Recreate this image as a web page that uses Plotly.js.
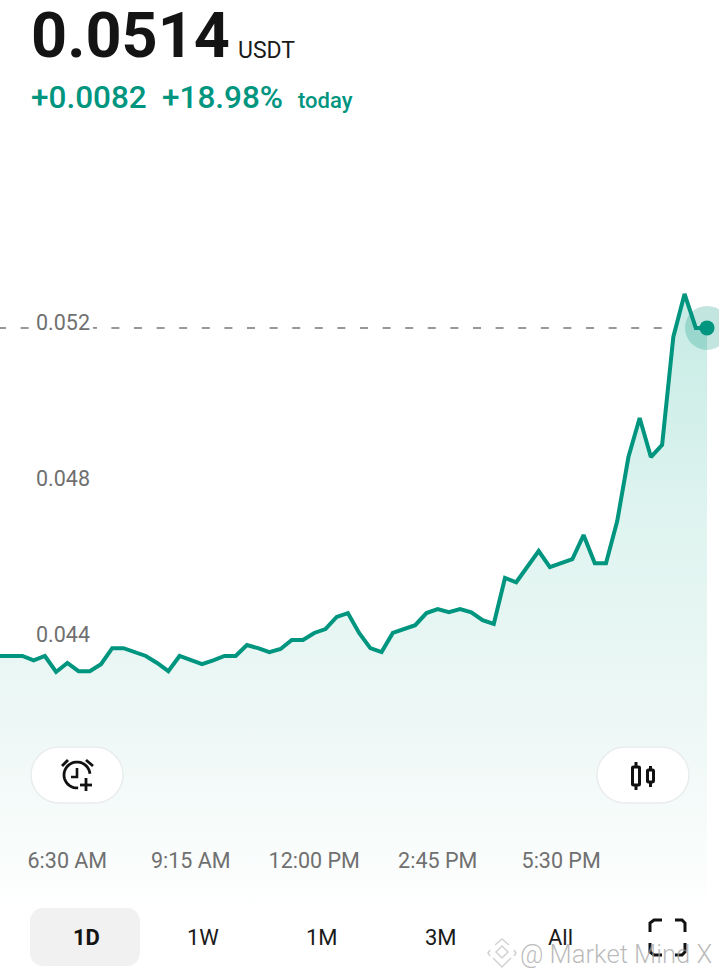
<!DOCTYPE html>
<html><head><meta charset="utf-8">
<script src="https://cdn.plot.ly/plotly-3.0.1.min.js"></script>
<style>html,body{margin:0;padding:0;background:#fff;overflow:hidden}#c{width:719px;height:979px}</style>
</head><body><div id="c"></div>
<script>
const times = ["05:00","05:15","05:30","05:45","06:00","06:15","06:30","06:45","07:00","07:15","07:30","07:45","08:00","08:15","08:30","08:45","09:00","09:15","09:30","09:45","10:00","10:15","10:30","10:45","11:00","11:15","11:30","11:45","12:00","12:15","12:30","12:45","13:00","13:15","13:30","13:45","14:00","14:15","14:30","14:45","15:00","15:15","15:30","15:45","16:00","16:15","16:30","16:45","17:00","17:15","17:30","17:45","18:00","18:15","18:30","18:45","19:00","19:15","19:30","19:45","20:00","20:15","20:30","20:45"];
const prices = [0.04344,0.04344,0.04344,0.04333,0.04344,0.04303,0.04326,0.04305,0.04305,0.04323,0.04364,0.04364,0.04354,0.04344,0.04326,0.04305,0.04344,0.04333,0.04323,0.04333,0.04344,0.04344,0.04372,0.04364,0.04354,0.04362,0.04385,0.04385,0.04403,0.04413,0.04444,0.04454,0.04403,0.04364,0.04354,0.04403,0.04413,0.04423,0.04454,0.04464,0.04456,0.04464,0.04456,0.04436,0.04426,0.04544,0.04533,0.04574,0.04613,0.04572,0.04582,0.04592,0.04654,0.04582,0.04582,0.04690,0.04854,0.04954,0.04854,0.04885,0.05162,0.05272,0.05185,0.05185];
const xTickVals = ["06:30","09:15","12:00","14:45","17:30"];
const xTickText = ["6:30 AM","9:15 AM","12:00 PM","2:45 PM","5:30 PM"];
const yTickVals = [0.044,0.048,0.052];
const yTickText = ["0.044","0.048","0.052"];
const tabs = ["1W","1M","3M","All"];
const tabCenters = [203,322,441,560];

const W=719,H=979,ML=0,MR=12,MT=120,MB=64;
const PW=W-ML-MR, PH=H-MT-MB;
const TEAL="#00957f", FF="Roboto, sans-serif";
const px=x=>(x-ML)/PW, py=y=>1-(y-MT)/PH;
const P=(x,y)=>px(x).toFixed(5)+","+py(y).toFixed(5);
const pathOf=(d,extra)=>Object.assign({type:"path",xref:"paper",yref:"paper",path:d,line:{color:"#111",width:3},layer:"above"},extra||{});
const poly=(pts,close)=>"M"+pts.map(p=>P(p[0],p[1])).join("L")+(close?"Z":"");
function rrect(x0,y0,x1,y1,r){const k=r*0.45;return "M"+P(x0+r,y0)+"L"+P(x1-r,y0)+"C"+P(x1-k,y0)+" "+P(x1,y0+k)+" "+P(x1,y0+r)+"L"+P(x1,y1-r)+"C"+P(x1,y1-k)+" "+P(x1-k,y1)+" "+P(x1-r,y1)+"L"+P(x0+r,y1)+"C"+P(x0+k,y1)+" "+P(x0,y1-k)+" "+P(x0,y1-r)+"L"+P(x0,y0+r)+"C"+P(x0,y0+k)+" "+P(x0+k,y0)+" "+P(x0+r,y0)+"Z";}
function arc(cx,cy,r,a0,a1){const pts=[];for(let a=a0;a<=a1;a+=10){const t=a*Math.PI/180;pts.push([cx+r*Math.cos(t),cy+r*Math.sin(t)]);}return poly(pts);}
const pill={fillcolor:"#fff",line:{color:"#e9eded",width:1.5},layer:"above"};
const last=prices[prices.length-1];
const shapes=[
 {type:"line",xref:"paper",yref:"y",x0:px(-2),x1:px(29),y0:last,y1:last,line:{color:"#777",width:1.5,dash:"8px,14.6px"},layer:"below"},
 {type:"line",xref:"paper",yref:"y",x0:px(93),x1:px(97),y0:last,y1:last,line:{color:"#777",width:1.5},layer:"below"},
 {type:"line",xref:"paper",yref:"y",x0:px(111.4),x1:px(682),y0:last,y1:last,line:{color:"#777",width:1.5,dash:"8px,14.6px"},layer:"below"},
 pathOf(rrect(31,747,123,803,28),pill),
 pathOf(rrect(597,747,689,803,28),pill),
 pathOf(rrect(30,908,140,966,13),{fillcolor:"#f1f1f1",line:{width:0}}),
 // alarm icon
 pathOf(arc(77,775,13,85,360)+"",{line:{color:"#111",width:2.8}}),
 pathOf(poly([[77,768],[77,777],[71,777]]),{line:{color:"#111",width:2.6}}),
 pathOf(poly([[62,766],[68,760]]),{line:{color:"#111",width:2.8}}),
 pathOf(poly([[86,760],[93,766]]),{line:{color:"#111",width:2.8}}),
 pathOf(poly([[86,778],[86,791]]),{line:{color:"#111",width:2.8}}),
 pathOf(poly([[80,785],[92,785]]),{line:{color:"#111",width:2.8}}),
 // candle icon
 pathOf(rrect(632.5,767,639.5,785,1),{line:{color:"#111",width:3}}),
 pathOf(poly([[636,762],[636,767]])),pathOf(poly([[636,785],[636,790]])),
 pathOf(rrect(647.5,770,653.5,782,1),{line:{color:"#111",width:3}}),
 pathOf(poly([[650.5,766],[650.5,770]])),pathOf(poly([[650.5,782],[650.5,787]])),
 // full screen icon
 pathOf(poly([[650,932],[650,923],[654,920],[662,920]])),
 pathOf(poly([[675,920],[682,920],[685,923],[685,932]])),
 pathOf(poly([[650,943],[650,952],[654,955],[662,955]])),
 pathOf(poly([[675,955],[682,955],[685,952],[685,943]])),
 // watermark logo
 pathOf(poly([[502,946],[508,952],[502,958],[496,952]],true),{line:{color:"#d2d2d2",width:1.5}}),
 pathOf(poly([[495,945],[502,939],[509,945]]),{line:{color:"#d2d2d2",width:1.5}}),
 pathOf(poly([[490,950],[488,953],[490,956]]),{line:{color:"#d2d2d2",width:1.5}}),
 pathOf(poly([[514,950],[516,953],[514,956]]),{line:{color:"#d2d2d2",width:1.5}}),
 pathOf(poly([[493,958],[502,967],[511,958]]),{line:{color:"#d2d2d2",width:1.5}})
];
const ann=(text,x,y,size,color,anchor,weight)=>({text,xref:"paper",yref:"paper",x:px(x),y:py(y),xanchor:anchor||"left",yanchor:"middle",showarrow:false,align:"left",borderpad:0,font:{family:FF,size,color,weight:weight||400}});
const annotations=[
 ann("0.0514",30,35,63,"#141414","left",700),
 ann("USDT",237,50,23,"#1a1a1a"),
 ann("+0.0082",30,97,31.5,TEAL,"left",500),
 ann("+18.98%",161,97,31.5,TEAL,"left",500),
 ann("today",297,100,22,TEAL,"left",500),
 ann("1D",86,937,22,"#141414","center",700),
 ...tabs.map((t,i)=>ann(t,tabCenters[i],937,22,"#1a1a1a","center")),
 ann("@ Market Mind X",519,954,25.6,"rgba(165,165,165,0.75)","left",300)
];
const traces=[
 {x:times,y:prices,type:"scatter",mode:"lines",line:{color:TEAL,width:4,shape:"linear"},fill:"tozeroy",
  fillgradient:{type:"vertical",start:0.0368,stop:0.0527,colorscale:[[0,"rgba(255,255,255,1)"],[0.3,"#eef8f6"],[0.62,"#e0f4f0"],[1,"#c6ebe4"]]},
  hoverinfo:"skip",cliponaxis:false},
 {x:[times[times.length-1]],y:[last],type:"scatter",mode:"markers",marker:{size:44,color:"rgba(0,146,126,0.24)"},cliponaxis:false,hoverinfo:"skip"},
 {x:[times[times.length-1]],y:[last],type:"scatter",mode:"markers",marker:{size:15,color:TEAL},cliponaxis:false,hoverinfo:"skip"}
];
const layout={
 width:W,height:H,margin:{l:ML,r:MR,t:MT,b:MB,pad:0},paper_bgcolor:"#fff",plot_bgcolor:"rgba(0,0,0,0)",showlegend:false,
 xaxis:{type:"category",categoryorder:"array",categoryarray:times,range:[0,63],tickmode:"array",tickvals:xTickVals,ticktext:xTickText,
  anchor:"free",position:py(845),ticks:"",showgrid:false,zeroline:false,showline:false,tickfont:{family:FF,size:21.5,color:"#707070"},fixedrange:true},
 yaxis:{range:[0.03680,0.05718],tickmode:"array",tickvals:yTickVals,ticktext:yTickText,anchor:"free",position:px(90),
  ticks:"",showgrid:false,zeroline:false,showline:false,tickfont:{family:FF,size:21.5,color:"#707070"},fixedrange:true},
 shapes,annotations
};
Plotly.newPlot("c",traces,layout,{displayModeBar:false,staticPlot:true});
</script></body></html>
